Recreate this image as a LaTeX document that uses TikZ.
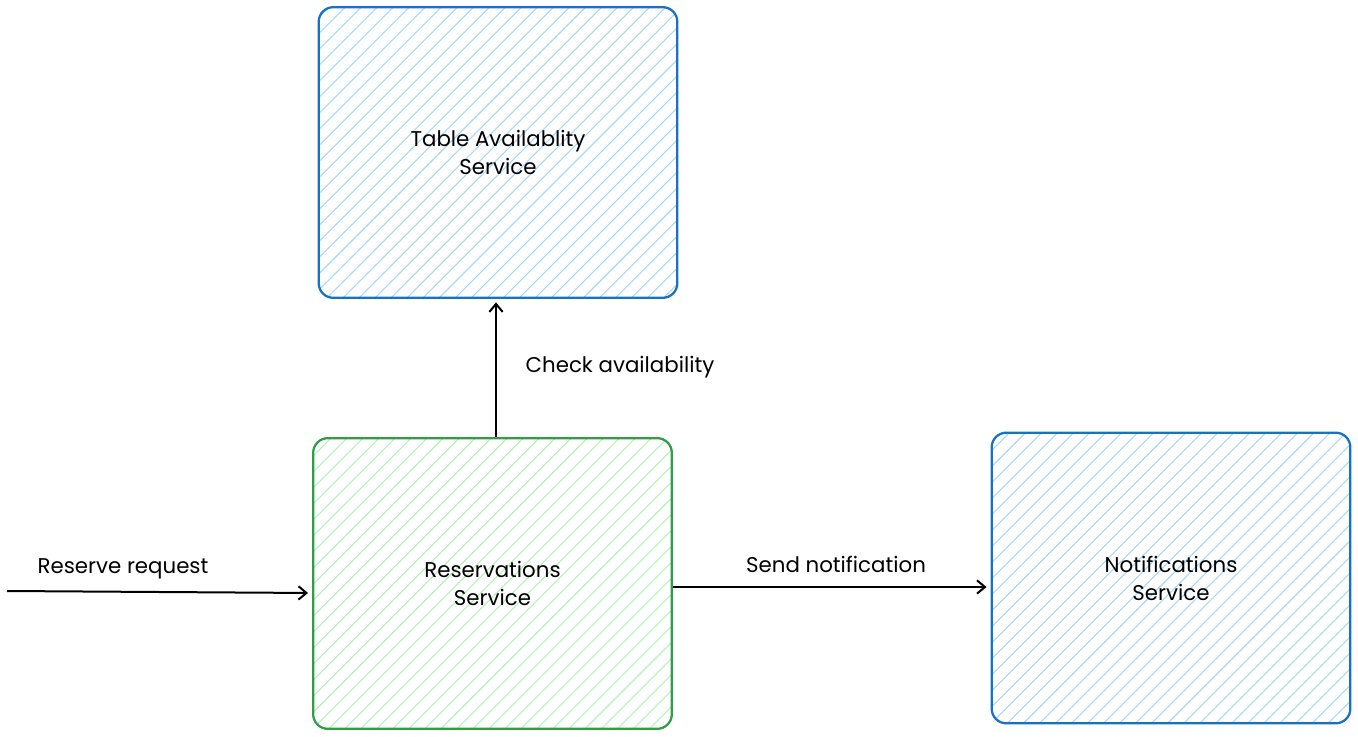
\documentclass[tikz,border=0pt]{standalone}
\usepackage{fontspec}
\setmainfont{Poppins}
\usetikzlibrary{patterns.meta,arrows.meta}
\definecolor{bb}{HTML}{1971C2}\definecolor{bh}{HTML}{A5D8FF}
\definecolor{gb}{HTML}{2F9E44}\definecolor{gh}{HTML}{B2F2BB}
\tikzset{
 box/.style={draw=#1b, line width=1.7pt, rounded corners=11pt,
   pattern={Lines[angle=45,distance=8.5pt,line width=0.8pt]}, pattern color=#1h,
   minimum width=269pt, minimum height=218pt, align=center, font=\fontsize{16}{21}\selectfont},
 arr/.style={line width=1.5pt,shorten >=3pt,-{Straight Barb[length=6pt,width=10pt]}},
 lbl/.style={font=\fontsize{16}{20}\selectfont}
}
\begin{document}
\begin{tikzpicture}[x=0.75pt,y=-0.75pt]
\useasboundingbox (0,0) rectangle (1358,737);
\node[box=b] (tab) at (498,152.5) {Table Availablity\\Service};
\node[box=g] (res) at (492.5,583.5) {Reservations\\Service};
\node[box=b] (not) at (1171,578) {Notifications\\Service};
\coordinate (src) at (7,591);
\draw[arr] (src) -- (res.west|-0,593);
\draw[arr] (res.north-|496,0) -- (tab.south-|496,0);
\draw[arr] (res.east|-0,587) -- (not.west|-0,587);
\node[lbl] at (123,569) {Reserve request};
\node[lbl] at (620,367) {Check availability};
\node[lbl] at (836,564) {Send notification};
\end{tikzpicture}
\end{document}
